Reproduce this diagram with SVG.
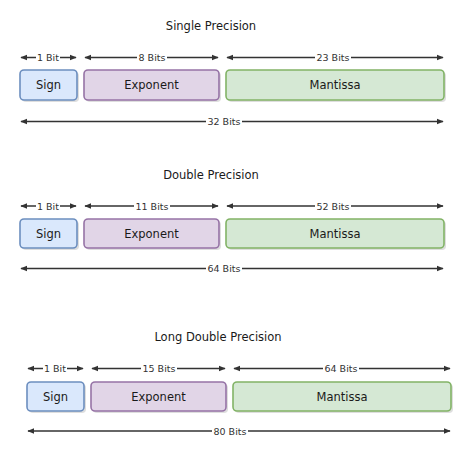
<svg xmlns="http://www.w3.org/2000/svg" width="474" height="454" viewBox="0 0 474 454">
<style>
text{font-family:"DejaVu Sans","Noto Sans",sans-serif;fill:#1a1a1a;text-anchor:middle;dominant-baseline:central}
.title{font-size:11.5px}
.box{font-size:11.5px}
.lbl{font-size:9.5px;fill:#333}
.sign{fill:#dae8fc;stroke:#6c8ebf;stroke-width:1.6}
.exp{fill:#e1d5e7;stroke:#9673a6;stroke-width:1.6}
.man{fill:#d5e8d4;stroke:#82b366;stroke-width:1.6}
.sh{fill:#c8c8c8;opacity:0.6}
.ln{stroke:#333;stroke-width:1.3;fill:none;marker-start:url(#ah);marker-end:url(#ah)}
.bg{fill:#fff}
</style>
<defs>
<marker id="ah" viewBox="0 0 10 10" refX="9" refY="5" markerWidth="7" markerHeight="7" orient="auto-start-reverse" markerUnits="userSpaceOnUse">
<path d="M0,1 L10,5 L0,9 Z" fill="#333"/>
</marker>
</defs>
<rect width="474" height="454" fill="#fff"/>

<text class="title" x="211" y="26">Single Precision</text>
<text class="title" x="211" y="175">Double Precision</text>
<text class="title" x="218" y="337">Long Double Precision</text>

<g id="nodes">
<g id="sp-sign"><rect class="sh" x="22" y="72" width="57" height="30" rx="4"/><rect class="sign" x="20" y="70" width="57" height="30" rx="4"/><text class="box" x="48.5" y="85">Sign</text></g>
<g id="sp-exp"><rect class="sh" x="86" y="72" width="135" height="30" rx="4"/><rect class="exp" x="84" y="70" width="135" height="30" rx="4"/><text class="box" x="151.5" y="85">Exponent</text></g>
<g id="sp-man"><rect class="sh" x="228" y="72" width="218" height="30" rx="4"/><rect class="man" x="226" y="70" width="218" height="30" rx="4"/><text class="box" x="335" y="85">Mantissa</text></g>

<g id="dp-sign"><rect class="sh" x="22" y="221" width="57" height="29" rx="4"/><rect class="sign" x="20" y="219" width="57" height="29" rx="4"/><text class="box" x="48.5" y="233.5">Sign</text></g>
<g id="dp-exp"><rect class="sh" x="86" y="221" width="135" height="29" rx="4"/><rect class="exp" x="84" y="219" width="135" height="29" rx="4"/><text class="box" x="151.5" y="233.5">Exponent</text></g>
<g id="dp-man"><rect class="sh" x="228" y="221" width="218" height="29" rx="4"/><rect class="man" x="226" y="219" width="218" height="29" rx="4"/><text class="box" x="335" y="233.5">Mantissa</text></g>

<g id="ld-sign"><rect class="sh" x="29" y="384" width="57" height="29" rx="4"/><rect class="sign" x="27" y="382" width="57" height="29" rx="4"/><text class="box" x="55.5" y="396.5">Sign</text></g>
<g id="ld-exp"><rect class="sh" x="93" y="384" width="135" height="29" rx="4"/><rect class="exp" x="91" y="382" width="135" height="29" rx="4"/><text class="box" x="158.5" y="396.5">Exponent</text></g>
<g id="ld-man"><rect class="sh" x="235" y="384" width="218" height="29" rx="4"/><rect class="man" x="233" y="382" width="218" height="29" rx="4"/><text class="box" x="342" y="396.5">Mantissa</text></g>
</g>

<g id="connectors">
<line class="ln" x1="21" y1="57.5" x2="76" y2="57.5"/>
<rect class="bg" x="36" y="52" width="24" height="11"/><text class="lbl" x="48" y="57.5">1 Bit</text>
<line class="ln" x1="85" y1="57.5" x2="218" y2="57.5"/>
<rect class="bg" x="137" y="52" width="30" height="11"/><text class="lbl" x="152" y="57.5">8 Bits</text>
<line class="ln" x1="227" y1="57.5" x2="443" y2="57.5"/>
<rect class="bg" x="315" y="52" width="36" height="11"/><text class="lbl" x="333" y="57.5">23 Bits</text>
<line class="ln" x1="21" y1="121.5" x2="443" y2="121.5"/>
<rect class="bg" x="206" y="116" width="36" height="11"/><text class="lbl" x="224" y="121.5">32 Bits</text>

<line class="ln" x1="21" y1="206" x2="76" y2="206"/>
<rect class="bg" x="36" y="200.5" width="24" height="11"/><text class="lbl" x="48" y="206">1 Bit</text>
<line class="ln" x1="85" y1="206" x2="218" y2="206"/>
<rect class="bg" x="134" y="200.5" width="36" height="11"/><text class="lbl" x="152" y="206">11 Bits</text>
<line class="ln" x1="227" y1="206" x2="443" y2="206"/>
<rect class="bg" x="315" y="200.5" width="36" height="11"/><text class="lbl" x="333" y="206">52 Bits</text>
<line class="ln" x1="21" y1="268.5" x2="443" y2="268.5"/>
<rect class="bg" x="206" y="263" width="36" height="11"/><text class="lbl" x="224" y="268.5">64 Bits</text>

<line class="ln" x1="28" y1="368.5" x2="83" y2="368.5"/>
<rect class="bg" x="43" y="363" width="24" height="11"/><text class="lbl" x="55" y="368.5">1 Bit</text>
<line class="ln" x1="92" y1="368.5" x2="225" y2="368.5"/>
<rect class="bg" x="141" y="363" width="36" height="11"/><text class="lbl" x="159" y="368.5">15 Bits</text>
<line class="ln" x1="234" y1="368.5" x2="450" y2="368.5"/>
<rect class="bg" x="323" y="363" width="36" height="11"/><text class="lbl" x="341" y="368.5">64 Bits</text>
<line class="ln" x1="28" y1="431" x2="450" y2="431"/>
<rect class="bg" x="212" y="425.5" width="36" height="11"/><text class="lbl" x="230" y="431">80 Bits</text>
</g>
</svg>
